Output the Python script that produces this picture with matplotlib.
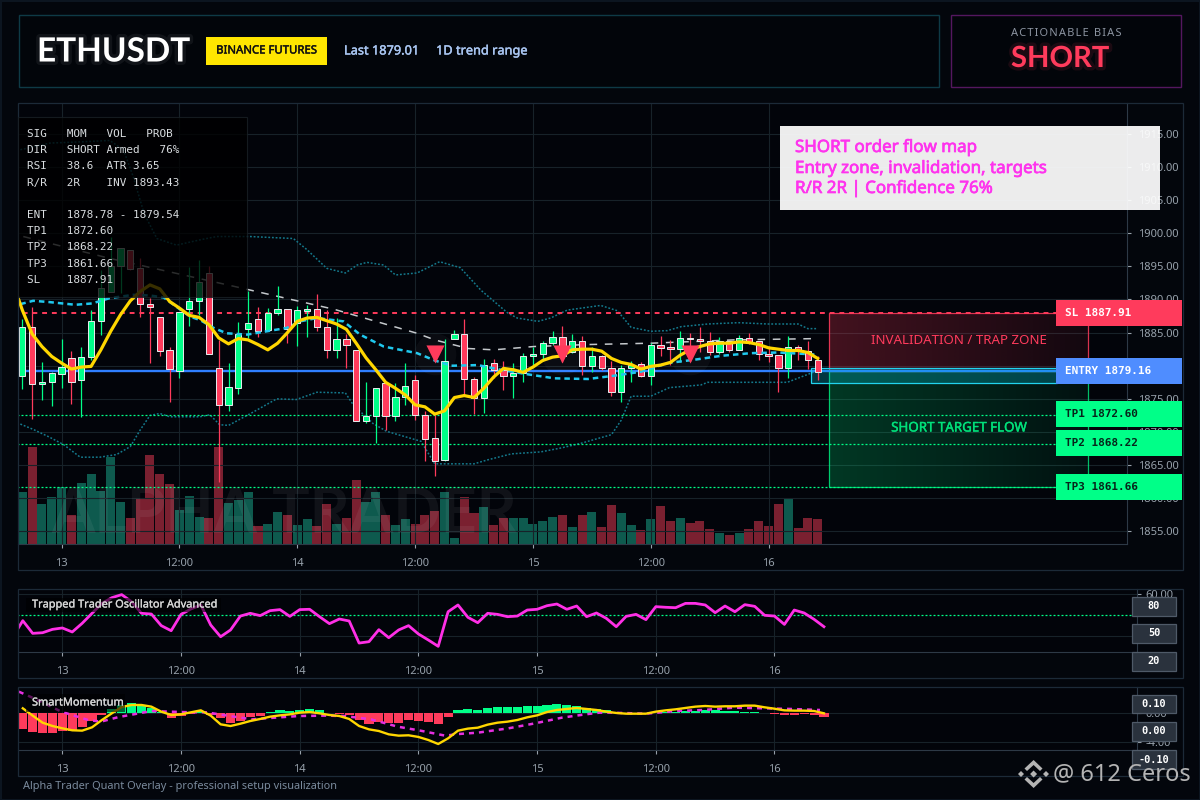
import numpy as np
import matplotlib
matplotlib.use("Agg")
import matplotlib.pyplot as plt
from matplotlib.patches import Rectangle, Polygon
import matplotlib.patheffects as pe

plt.rcParams["font.family"] = ["Noto Sans", "DejaVu Sans"]

# candles, one per hour
opens = [1878.5, 1885.9, 1877.2, 1877.5, 1878.8, 1881.1, 1877.8, 1881.3, 1886.7, 1891.1,
         1895.1, 1897.4, 1894.7, 1889.3, 1887.3, 1882.4, 1879.2, 1888.6, 1889.7, 1894.0,
         1879.6, 1874.1, 1876.6, 1885.6, 1887.0, 1885.4, 1887.9, 1888.5, 1886.4, 1888.2,
         1888.6, 1885.8, 1882.4, 1884.0, 1882.4, 1871.7, 1872.4, 1877.4, 1872.4, 1875.3,
         1877.8, 1872.6, 1869.1, 1865.8, 1884.1, 1884.8, 1878.0, 1875.1, 1880.4, 1879.4,
         1878.5, 1878.9, 1881.4, 1881.8, 1883.4, 1884.3, 1882.1, 1883.7, 1879.9, 1881.4,
         1879.6, 1876.1, 1879.6, 1880.2, 1878.5, 1883.1, 1882.8, 1882.5, 1884.2, 1884.0,
         1883.7, 1882.0, 1883.7, 1882.4, 1884.2, 1883.7, 1881.8, 1881.6, 1879.7, 1882.8,
         1882.2, 1880.8]
closes = [1885.9, 1877.3, 1877.5, 1878.9, 1879.8, 1877.5, 1881.3, 1886.7, 1891.7, 1895.1,
          1897.7, 1894.6, 1889.3, 1888.9, 1882.3, 1879.5, 1888.1, 1889.7, 1892.6, 1881.8,
          1874.1, 1876.8, 1884.8, 1886.4, 1885.3, 1887.9, 1888.5, 1885.5, 1888.4, 1888.6,
          1885.8, 1882.4, 1884.0, 1883.2, 1871.7, 1872.4, 1876.6, 1872.4, 1875.3, 1876.9,
          1872.6, 1869.0, 1865.6, 1880.7, 1884.8, 1878.0, 1875.1, 1880.1, 1879.4, 1878.5,
          1878.9, 1881.4, 1881.8, 1883.4, 1884.3, 1881.5, 1883.7, 1879.9, 1881.4, 1879.6,
          1876.1, 1879.6, 1880.1, 1878.5, 1883.1, 1882.7, 1882.5, 1884.2, 1884.1, 1883.7,
          1882.0, 1883.7, 1882.4, 1884.2, 1883.5, 1881.8, 1881.5, 1879.7, 1882.8, 1882.2,
          1880.8, 1879.0]
highs = [1887.1, 1888.9, 1880.6, 1879.1, 1884.1, 1882.2, 1882.9, 1888.4, 1894.5, 1899.5,
         1897.8, 1897.5, 1896.2, 1890.2, 1887.4, 1882.9, 1888.1, 1894.9, 1895.9, 1895.0,
         1883.9, 1880.4, 1886.6, 1891.3, 1888.8, 1888.7, 1892.1, 1888.6, 1889.0, 1889.2,
         1890.8, 1888.4, 1887.2, 1884.8, 1882.4, 1877.5, 1876.7, 1877.4, 1877.4, 1880.4,
         1878.6, 1873.1, 1872.6, 1884.0, 1885.4, 1887.1, 1878.3, 1881.0, 1881.0, 1880.7,
         1880.4, 1881.9, 1882.8, 1883.8, 1885.2, 1886.0, 1884.8, 1884.5, 1882.9, 1881.6,
         1880.7, 1880.1, 1880.7, 1880.6, 1883.5, 1884.5, 1883.9, 1885.3, 1885.0, 1885.9,
         1885.1, 1884.3, 1883.7, 1884.7, 1884.9, 1883.7, 1883.0, 1881.6, 1884.5, 1883.2,
         1883.8, 1881.5]
lows = [1876.5, 1872.0, 1874.8, 1873.9, 1876.7, 1874.3, 1872.3, 1880.9, 1884.7, 1891.1,
        1891.0, 1894.5, 1887.4, 1880.4, 1881.5, 1874.6, 1878.2, 1886.0, 1887.7, 1881.7,
        1862.5, 1873.2, 1875.7, 1884.2, 1884.4, 1885.3, 1887.7, 1883.5, 1883.0, 1884.4,
        1885.2, 1881.2, 1881.1, 1879.6, 1871.6, 1871.3, 1868.3, 1870.3, 1871.6, 1874.1,
        1871.8, 1865.6, 1863.3, 1865.6, 1884.1, 1875.5, 1872.7, 1872.9, 1878.1, 1876.4,
        1875.2, 1877.5, 1879.9, 1880.7, 1883.2, 1880.6, 1881.9, 1878.6, 1879.0, 1879.3,
        1875.5, 1874.6, 1877.6, 1878.3, 1877.1, 1881.4, 1880.1, 1880.6, 1881.1, 1882.1,
        1881.6, 1881.8, 1882.1, 1882.4, 1883.3, 1880.9, 1880.6, 1876.0, 1878.2, 1880.9,
        1879.5, 1877.9]
volumes = [52, 97, 40, 47, 57, 29, 61, 70, 53, 87, 42, 26, 46, 89, 70, 60, 34, 48, 27, 26,
           97, 41, 44, 52, 18, 20, 32, 29, 19, 25, 18, 40, 20, 26, 64, 42, 52, 29, 19, 25, 20,
           29, 33, 52, 6, 47, 31, 37, 19, 26, 26, 26, 20, 23, 27, 29, 17, 29, 32, 17, 39,
           31, 19, 14, 25, 38, 23, 26, 21, 23, 15, 11, 9, 11, 15, 23, 18, 40, 46, 16, 26, 25]

# yellow average on the price pane (first value sits just left of the pane)
ema_fast = [1892.7, 1888.4, 1884.8, 1882.9, 1881.4, 1880.4, 1879.5, 1879.8, 1879.9, 1882.4, 1885.2,
            1887.7, 1889.8, 1891.2, 1892.2, 1891.6, 1889.7, 1888.7, 1887.6, 1887.3, 1886.2,
            1884.2, 1883.3, 1884.1, 1883.9, 1883.2, 1882.4, 1883.4, 1885.0, 1886.7, 1887.2,
            1887.3, 1886.8, 1886.3, 1885.5, 1883.4, 1881.2, 1879.4, 1877.5, 1876.6, 1875.6,
            1874.1, 1873.8, 1872.7, 1873.2, 1875.2, 1875.5, 1875.2, 1876.6, 1878.3, 1879.6,
            1879.4, 1879.0, 1879.8, 1880.8, 1881.3, 1881.5, 1882.4, 1882.5, 1882.5, 1882.2,
            1881.1, 1880.5, 1880.2, 1879.5, 1879.9, 1880.1, 1880.5, 1881.6, 1882.4, 1882.9,
            1883.3, 1883.4, 1883.4, 1883.6, 1883.5, 1883.2, 1882.7, 1882.5, 1882.3, 1882.3,
            1882.0, 1881.1]

# bands and trend line, sampled where they bend
bb_mid_x = [-0.2, 1.1, 2.8, 5.4, 7.1, 8.9, 11.3, 13, 14.4, 15.7, 17.1, 18.1, 19.5, 20.8, 22.9, 24.9,
            26.9, 28.3, 30, 32.7, 34.4, 36.8, 40.2, 42, 43.7, 46.4, 48.7, 51.5, 54.2, 57.6, 60.3,
            63, 65.7, 68.4, 71.2, 74.2, 77, 80.7]
bb_mid = [1889.3, 1889.8, 1889.6, 1889.2, 1889.4, 1890.2, 1890.7, 1890.6, 1890.3, 1888.9, 1887.4,
          1886.9, 1885.7, 1884.9, 1884.7, 1885.2, 1885.7, 1886.7, 1887.2, 1886.7, 1884.7, 1882.9,
          1881.9, 1880.8, 1880.0, 1880.1, 1879.4, 1878.7, 1878.1, 1878.0, 1878.5, 1879.1, 1880.4,
          1880.9, 1881.5, 1881.9, 1882.0, 1881.7]
bb_up_x = [-0.2, 2.8, 6.2, 8.9, 10.3, 11.3, 12.4, 13.7, 15.7, 18.1, 19.8, 23.2, 27.6, 29, 31, 32.9,
           34.1, 35.1, 36.8, 38, 40.2, 42.5, 44.6, 46.7, 49.4, 50.4, 52.5, 53.8, 55.5, 58.9, 60.6,
           62, 64, 65.7, 67.1, 69.8, 72.9, 75.9, 79, 80, 81]
bb_up = [1912.6, 1913.6, 1913.8, 1914.0, 1912.6, 1908.5, 1903.0, 1899.2, 1898.2, 1899.0, 1899.5,
         1899.5, 1899.2, 1897.5, 1894.7, 1894.0, 1895.2, 1895.6, 1895.2, 1893.7, 1894.0, 1895.7,
         1894.8, 1891.4, 1888.0, 1887.2, 1886.7, 1887.2, 1888.4, 1889.1, 1888.3, 1885.8, 1885.2,
         1885.3, 1885.9, 1886.3, 1886.5, 1886.3, 1886.3, 1885.6, 1885.6]
bb_low_x = [-0.2, 1.1, 2.8, 4.2, 5.9, 7.9, 9.6, 11, 12, 13, 14, 15, 18.1, 19.1, 20.1, 21, 23.5, 25.9,
            27.9, 30, 32.9, 33.7, 35.7, 37.1, 40.6, 42, 46, 47.4, 49.8, 52.8, 54.9, 56.9, 60, 61,
            62, 64, 65.9, 69.1, 69.8, 77.9, 79.3, 80.7]
bb_low = [1871.2, 1870.4, 1869.2, 1868.1, 1866.2, 1866.2, 1866.6, 1867.8, 1870.3, 1872.5, 1872.8,
          1872.3, 1872.3, 1872.6, 1871.1, 1871.0, 1873.0, 1875.0, 1874.9, 1876.0, 1875.9, 1874.1,
          1871.3, 1870.1, 1868.6, 1865.2, 1865.2, 1865.8, 1866.7, 1867.0, 1867.6, 1868.3, 1869.6,
          1871.8, 1875.4, 1875.4, 1876.7, 1877.1, 1877.5, 1877.5, 1878.3, 1879.1]
trend_x = [0.1, 8.9, 21.5, 31.8, 40.2, 42, 45.4, 48, 52.1, 57.6, 64, 72.5, 81]
trend = [1899.5, 1896.2, 1892.0, 1888.5, 1884.9, 1883.9, 1882.6, 1882.4, 1882.9, 1883.2, 1883.4, 1883.9, 1884.1]

signal_x = [42, 55, 68]
signal_y = [1881.8, 1881.8, 1881.8]

sl_price = 1887.91
entry_price = 1879.16
tp_prices = [1872.60, 1868.22, 1861.66]
entry_zone = [1877.4, 1879.6]
price_ticks = [1855, 1860, 1865, 1870, 1875, 1880, 1885, 1890, 1895, 1900, 1905, 1910, 1915]
time_ticks = [4, 16, 28, 40, 52, 64, 76]
time_labels = ["13", "12:00", "14", "12:00", "15", "12:00", "16"]

# oscillator pane
osc = [19.5, 34.7, 22.7, 23.3, 26.5, 27.8, 24.0, 32.2, 41.7, 51.1, 56.5, 59.4, 52.7, 41.7, 41.0, 30.0,
       25.2, 40.7, 45.8, 49.6, 30.6, 19.5, 25.9, 39.1, 41.7, 39.5, 44.2, 45.2, 38.8, 45.2, 45.5,
       38.5, 31.9, 36.3, 34.4, 13.5, 14.8, 26.2, 18.6, 25.9, 30.0, 22.1, 16.4, 10.4, 43.2, 49.6,
       37.9, 32.8, 41.7, 40.7, 38.5, 39.1, 44.8, 45.5, 48.9, 50.5, 45.5, 48.6, 38.5, 42.0, 36.9,
       29.0, 38.8, 40.7, 35.7, 48.0, 47.4, 47.0, 51.1, 51.1, 49.6, 42.3, 48.6, 43.2, 49.9, 48.3,
       39.8, 39.1, 31.2, 44.8, 42.0, 36.0, 29.0]

# momentum pane
hist = [-2.16, -2.57, -2.71, -2.71, -2.39, -2.39, -1.93, -1.01, -0.23, 0.6, 1.2, 1.38, 1.06, 0.78,
        0.23, -0.64, -0.32, -0.05, 0.32, -0.23, -0.69, -1.38, -1.06, -0.55, -0.37, 0.23, 0.46,
        0.37, 0.5, 0.64, 0.46, 0.05, -0.09, -0.28, -0.87, -1.47, -1.24, -1.38, -1.33, -0.92,
        -1.06, -1.24, -1.47, -0.51, 0.46, 0.64, 0.46, 0.74, 0.92, 0.92, 0.92, 1.01, 1.01, 1.15,
        1.29, 1.15, 1.01, 0.78, 0.6, 0.4, 0.2, 0.05, -0.05, -0.05, 0.05, 0.2, 0.25, 0.3, 0.35,
        0.4, 0.4, 0.35, 0.3, 0.2, 0.15, 0.05, -0.1, -0.3, -0.3, -0.1, -0.25, -0.5]
macd = [0.69, -0.32, -1.29, -1.75, -2.07, -2.34, -2.39, -1.93, -0.92, 0.0, 0.87, 1.15, 1.15, 0.92,
        0.23, -0.23, -0.14, 0.14, 0.41, -0.32, -1.52, -1.75, -1.43, -1.06, -0.78, -0.46, -0.28,
        -0.14, 0.09, 0.18, 0.0, -0.23, -0.37, -0.78, -1.75, -2.21, -2.44, -2.9, -3.08, -3.03,
        -3.26, -3.68, -4.23, -3.45, -2.39, -2.11, -1.98, -1.56, -1.29, -1.15, -0.92, -0.55,
        -0.28, 0.18, 0.46, 0.6, 0.74, 0.6, 0.46, 0.23, 0.05, -0.05, -0.05, -0.05, 0.23, 0.41,
        0.55, 0.74, 0.92, 1.01, 0.92, 0.97, 0.97, 1.06, 1.06, 0.83, 0.64, 0.41, 0.37, 0.37,
        0.32, 0.0]
sig_x = [-0.4, 1.5, 3.9, 6.6, 7.9, 9.7, 11.2, 13, 14.9, 17, 18.6, 20.9, 23.2, 25.5, 27.9, 30.6, 32.5,
         35.2, 37.9, 40.2, 42.7, 44.1, 46, 49.1, 51.8, 54.5, 56.9, 58.3, 59.5, 63, 66.1, 68.8,
         71.9, 75, 77.7, 80.6]
sig = [2.99, 1.84, 0.23, -0.92, -1.15, -0.51, -0.14, 0.32, 0.23, 0.14, 0.14, -0.37, -0.83, -0.6,
       -0.37, -0.32, -0.37, -0.83, -1.84, -2.39, -3.08, -2.85, -2.67, -2.07, -1.38, -0.6, -0.14,
       0.09, 0.09, -0.05, 0.32, 0.46, 0.78, 0.69, 0.6, 0.46]

table_rows = ["SIG   MOM   VOL   PROB", "DIR   SHORT Armed   76%", "RSI   38.6  ATR 3.65",
              "R/R   2R    INV 1893.43", "", "ENT   1878.78 - 1879.54", "TP1   1872.60",
              "TP2   1868.22", "TP3   1861.66", "SL    1887.91"]

GREEN = "#00ff88"
RED = "#ff3b5c"
BG = "#02040a"
GRID = "#172229"
FRAME = "#1c2a38"
TICK = "#97a1ab"
W, H = 1200, 800


def pane(x0, y0, x1, y1):
    # axes placed by pixel box of the reference
    a = fig.add_axes([x0 / W, 1 - y1 / H, (x1 - x0) / W, (y1 - y0) / H])
    a.set_facecolor(BG)
    for s in ["top", "left"]:
        a.spines[s].set_visible(False)
    for s in ["bottom", "right"]:
        a.spines[s].set_color("#2d3946")
    a.tick_params(colors=TICK, labelsize=8, length=3, width=0.8)
    a.grid(True, color=GRID, lw=0.8)
    a.set_axisbelow(True)
    return a


# thin stroke to thicken text, the named font has no bold face here
def thick(color, w=0.5):
    return [pe.withStroke(linewidth=w, foreground=color)]


fig = plt.figure(figsize=(12, 8), dpi=100, facecolor="#03060c")
x = np.arange(len(opens))
o, c, h, l = map(np.array, (opens, closes, highs, lows))
up = c >= o
colors = [GREEN if u else RED for u in up]

# price pane
ax = pane(18, 103, 1127, 544)
ax_vol = ax.twinx()
ax_vol.set_ylim(0, 441)
ax_vol.set_xticks([])
ax_vol.set_yticks([])
ax_vol.set_facecolor(BG)
for s in ax_vol.spines.values():
    s.set_visible(False)
ax.set_zorder(ax_vol.get_zorder() + 1)
ax.patch.set_visible(False)
ax_vol.patch.set_visible(True)
ax_vol.bar(x, volumes, width=0.92, color=["#0e5a4e" if u else "#7a2030" for u in up], zorder=2)

ax.vlines(x, l, h, color=colors, lw=0.9, zorder=4)
ax.bar(x, np.abs(c - o), bottom=np.minimum(o, c), width=0.64, color=colors, edgecolor="#e9eef0", lw=0.7, zorder=5)
ax.plot(bb_up_x, bb_up, color="#14798c", lw=1.1, ls=(0, (1.2, 1.2)), zorder=3)
ax.plot(bb_low_x, bb_low, color="#14798c", lw=1.1, ls=(0, (1.2, 1.2)), zorder=3)
ax.plot(trend_x, trend, color="#c4c8cc", lw=1.1, ls=(0, (5, 5)), zorder=3)
ax.plot(bb_mid_x, bb_mid, color="#1fc8ee", lw=1.8, ls=(0, (2.2, 1.6)), zorder=6)
ax.plot(np.arange(-1, len(opens)), ema_fast, color="#ffd600", lw=2.3, zorder=7, solid_joinstyle="round")

ax.hlines(sl_price, -1, 105.3, color=RED, lw=1.4, ls=(0, (2.5, 2.5)), zorder=3)
ax.hlines(tp_prices, -1, 105.3, color=GREEN, lw=0.9, ls=(0, (1.6, 1.6)), zorder=3)
ax.hlines(entry_price, -1, 105.3, color="#2f7fff", lw=1.7, zorder=3.5)

# zones with a fading fill
ramp = np.linspace(0.26, 0.07, 128)
red_img = np.zeros((1, 128, 4))
red_img[..., :3] = matplotlib.colors.to_rgb(RED)
red_img[..., 3] = ramp
green_img = np.zeros((1, 128, 4))
green_img[..., :3] = matplotlib.colors.to_rgb(GREEN)
green_img[..., 3] = ramp * 0.8
ax.imshow(red_img, extent=(82.2, 108.5, entry_price, sl_price), aspect="auto", zorder=2.5)
ax.imshow(green_img, extent=(82.2, 108.5, tp_prices[2], entry_price), aspect="auto", zorder=2.5)
ax.add_patch(Rectangle((82.2, entry_price), 26.3, sl_price - entry_price, fc="none", ec=RED, lw=0.9, alpha=0.85, zorder=3))
ax.add_patch(Rectangle((82.2, tp_prices[2]), 26.3, entry_price - tp_prices[2], fc="none", ec=GREEN, lw=0.9, alpha=0.75, zorder=3))
ax.add_patch(Rectangle((80.35, entry_zone[0]), 25, entry_zone[1] - entry_zone[0], fc="#00bcd4", alpha=0.28, ec="none", zorder=3.6))
ax.add_patch(Rectangle((80.35, entry_zone[0]), 25, entry_zone[1] - entry_zone[0], fc="none", ec="#22d3ee", lw=0.9, zorder=3.7))

ax.scatter(signal_x, signal_y, s=900, color="#ffffff", alpha=0.035, lw=0, zorder=7.5)
ax.scatter(signal_x, signal_y, s=170, marker="v", color=RED, lw=0, zorder=8)

ax.set_xlim(-0.44, 112.5)
ax.set_ylim(1853.1, 1919.65)
ax_vol.set_xlim(-0.44, 112.5)
ax.yaxis.tick_right()
ax.set_yticks(price_ticks)
ax.set_yticklabels([f"{p:.2f}" for p in price_ticks])
ax.tick_params(axis="y", pad=5)
ax.set_xticks(time_ticks)
ax.set_xticklabels(time_labels)
ax.tick_params(axis="x", pad=7)
ax.text(3, 1853.1, "ALPHA TRADER", fontsize=45, family="Lato", fontweight="bold", color="#ffffff", alpha=0.06, va="bottom", ha="left", clip_on=True, zorder=9)

# oscillator pane
ax2 = pane(18, 589.3, 1136.5, 652.3)
ax2.yaxis.tick_right()
ax2.plot(np.arange(-1, len(opens)), osc, color="#ff2fe6", lw=2.0, zorder=4)
ax2.hlines(40, -1, 112.6, color=GREEN, lw=0.9, ls=(0, (1.6, 1.6)), zorder=3)
ax2.set_xlim(-0.485, 112.6)
ax2.set_ylim(4.74, 64.45)
ax2.set_yticks([60, 20])
ax2.set_yticklabels(["60.00", ""])
ax2.set_xticks(time_ticks)
ax2.set_xticklabels(time_labels)
ax2.tick_params(axis="x", pad=7)

# momentum pane
ax3 = pane(18, 687.3, 1136.5, 750)
ax3.yaxis.tick_right()
ax3.bar(x, hist, width=0.92, color=[GREEN if v >= 0 else RED for v in hist], zorder=3)
ax3.plot(sig_x, sig, color="#e62fe0", lw=1.8, ls=(0, (2, 2)), zorder=4)
ax3.plot(x, macd, color="#ffd600", lw=1.7, zorder=5)
ax3.set_xlim(-0.485, 112.6)
ax3.set_ylim(-5.06, 3.59)
ax3.set_yticks([0, -4])
ax3.set_yticklabels(["0.00", "-4.00"])
ax3.set_xticks(time_ticks)
ax3.set_xticklabels(time_labels)
ax3.tick_params(axis="x", pad=7)

# overlay in pixel coordinates for header, frames and tags
ov = fig.add_axes([0, 0, 1, 1], zorder=20)
ov.set_xlim(0, W)
ov.set_ylim(H, 0)
ov.axis("off")
ov.patch.set_visible(False)


def box(x0, y0, x1, y1, fc="none", ec="none", lw=1.0, alpha=None, z=1):
    ov.add_patch(Rectangle((x0, y0), x1 - x0, y1 - y0, fc=fc, ec=ec, lw=lw, alpha=alpha, zorder=z))


box(0.5, 0.5, 1199.5, 799.5, ec="#0c1520", lw=1.5)
box(18, 103, 1182.5, 570, ec=FRAME, lw=0.9)
box(18, 589.3, 1182.5, 678.3, ec=FRAME, lw=0.9)
box(18, 687.3, 1182.5, 776.3, ec=FRAME, lw=0.9)

# header
box(19, 15, 939, 87, fc="#02050a", ec="#0e3a46", lw=1.0)
box(951, 15, 1181, 87, fc="#02050a", ec="#54175f", lw=1.0)
ov.text(37, 52, "ETHUSDT", color="white", fontsize=24, family="Lato", fontweight="bold", va="center", ha="left",
        path_effects=[pe.withStroke(linewidth=5, foreground="#ffffff", alpha=0.06)])
box(206, 37, 327, 65, fc="#ffe600")
ov.text(266.5, 51, "BINANCE FUTURES", color="#111111", fontsize=8.2, va="center", ha="center", path_effects=thick("#111111", 0.3))
ov.text(344, 51, "Last 1879.01", color="#a9c6f2", fontsize=9.2, va="center", path_effects=thick("#a9c6f2", 0.3))
ov.text(436, 51, "1D trend range", color="#a9c6f2", fontsize=9.2, va="center", path_effects=thick("#a9c6f2", 0.3))
ov.text(1011, 34, "\u200a".join("ACTIONABLE BIAS"), color="#8b93a0", fontsize=8, va="center", ha="left")
ov.text(1011, 59, "SHORT", color=RED, fontsize=21, family="Lato", fontweight="bold", va="center", ha="left",
        path_effects=[pe.withStroke(linewidth=5, foreground=RED, alpha=0.1)])

# data table over the chart
box(18, 117, 247, 297, fc="#000000", ec="#1a2127", lw=0.8, alpha=0.78)
for row, yy in zip(table_rows, [134, 150, 166, 183, 199, 215, 231, 247, 264, 280]):
    ov.text(27, yy, row, family="DejaVu Sans Mono", fontsize=7.9, color="#d9dde0", va="center", ha="left")

# note box
box(780, 126, 1160, 210, fc="#ffffff", alpha=0.93)
for line, yy in zip(["SHORT order flow map", "Entry zone, invalidation, targets", "R/R 2R | Confidence 76%"], [148, 169, 189]):
    ov.text(795, yy, line, color="#ff33ee", fontsize=12.2, va="center", ha="left", path_effects=thick("#ff33ee", 0.5))

ov.text(958.7, 341, "INVALIDATION / TRAP ZONE", color="#ff3b5c", fontsize=9.6, va="center", ha="center")
ov.text(958.7, 428, "SHORT TARGET FLOW", color="#00e07a", fontsize=9.6, va="center", ha="center", path_effects=thick("#00e07a", 0.3))

# price tags
tags = [(300, 326, RED, "white", f"SL {sl_price:.2f}"),
        (358, 384, "#4f8dff", "white", f"ENTRY {entry_price:.2f}"),
        (401, 427, GREEN, "#06251a", f"TP1 {tp_prices[0]:.2f}"),
        (430, 456, GREEN, "#06251a", f"TP2 {tp_prices[1]:.2f}"),
        (474, 500, GREEN, "#06251a", f"TP3 {tp_prices[2]:.2f}")]
for y0, y1, fc, tc, label in tags:
    box(1056, y0, 1182, y1, fc=fc, z=3)
    ov.text(1065, (y0 + y1) / 2, label, family="DejaVu Sans Mono", fontweight="bold", fontsize=7.9, color=tc, va="center", ha="left", zorder=4)

# level boxes on the lower panes
level_boxes = [(597, 615.7, "80"), (624, 642.7, "50"), (652, 670.7, "20"),
               (695, 713.3, "0.10"), (722.3, 740.7, "0.00"), (750.3, 769, "-0.10")]
for y0, y1, label in level_boxes:
    box(1132, y0, 1176, y1, fc="#2a323d", ec="#4f5a68", lw=0.9, z=3)
    ov.text(1154, (y0 + y1) / 2, label, family="DejaVu Sans Mono", fontweight="bold", fontsize=7.4, color="white", va="center", ha="center", zorder=4)

# pane titles
box(26, 598, 221, 612, fc="#000000", alpha=0.6)
ov.text(32, 605, "Trapped Trader Oscillator Advanced", color="#d6d6d6", fontsize=7.9, va="center", ha="left", path_effects=thick("#d6d6d6", 0.2))
box(26, 694, 125, 712, fc="#000000", alpha=0.6)
ov.text(32, 703, "SmartMomentum", color="#d6d6d6", fontsize=7.9, va="center", ha="left", path_effects=thick("#d6d6d6", 0.2))

ov.text(23, 787, "Alpha Trader Quant Overlay - professional setup visualization", color="#7a8a9c", fontsize=7.9, va="center", ha="left")

# binance style mark and handle
mark = "#b4b4b4"
for cx, cy, r in [(1033.6, 774, 3.5), (1021, 774, 3), (1046, 774, 3)]:
    ov.add_patch(Polygon([(cx - r, cy), (cx, cy - r), (cx + r, cy), (cx, cy + r)], fc=mark, ec="none"))
ov.add_patch(Polygon([(1033.6, 760), (1042.5, 768.5), (1040, 771), (1033.6, 765), (1027, 771), (1024.5, 768.5)], fc=mark, ec="none"))
ov.add_patch(Polygon([(1033.6, 788), (1042.5, 779.5), (1040, 777), (1033.6, 783), (1027, 777), (1024.5, 779.5)], fc=mark, ec="none"))
ov.text(1053, 774, "@ 612 Ceros", color="#b4b4b4", fontsize=17, va="center", ha="left")

fig.savefig("out.png", dpi=100, facecolor=fig.get_facecolor())
